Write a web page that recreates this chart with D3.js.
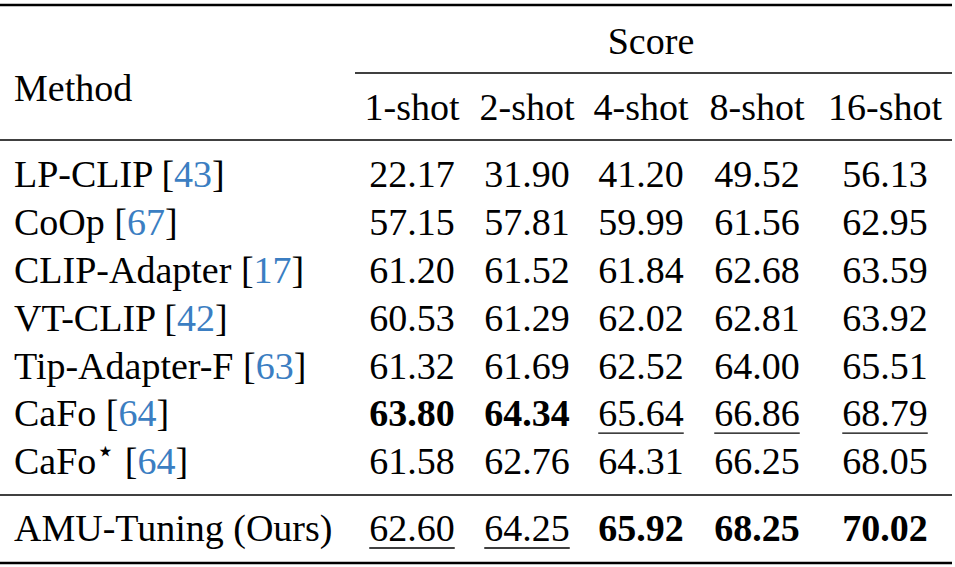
<!DOCTYPE html>
<html><head><meta charset="utf-8">
<script src="https://cdn.jsdelivr.net/npm/d3@7"></script>
<style>body{margin:0;background:#fff}text{font-family:"Liberation Serif","Times New Roman",serif;font-size:38px;fill:#000}</style>
</head><body>
<script>
var w = 955, h = 567;

var columns = ["1-shot", "2-shot", "4-shot", "8-shot", "16-shot"];
var methods = ["LP-CLIP", "CoOp", "CLIP-Adapter", "VT-CLIP", "Tip-Adapter-F", "CaFo", "CaFo"];
var cites = ["43", "67", "17", "42", "63", "64", "64"];
var values = [
  ["22.17", "31.90", "41.20", "49.52", "56.13"],
  ["57.15", "57.81", "59.99", "61.56", "62.95"],
  ["61.20", "61.52", "61.84", "62.68", "63.59"],
  ["60.53", "61.29", "62.02", "62.81", "63.92"],
  ["61.32", "61.69", "62.52", "64.00", "65.51"],
  ["63.80", "64.34", "65.64", "66.86", "68.79"],
  ["61.58", "62.76", "64.31", "66.25", "68.05"]
];
var oursName = "AMU-Tuning (Ours)";
var oursValues = ["62.60", "64.25", "65.92", "68.25", "70.02"];
// style: b = bold, u = underline
var styles = [
  ["", "", "", "", ""], ["", "", "", "", ""], ["", "", "", "", ""], ["", "", "", "", ""], ["", "", "", "", ""],
  ["b", "b", "u", "u", "u"],
  ["", "", "", "", ""]
];
var oursStyles = ["u", "u", "b", "b", "b"];

var svg = d3.select("body").append("svg").attr("width", w).attr("height", h);

var x = d3.scaleOrdinal().domain(columns).range([412, 527, 641, 757, 885]);
var y = d3.scaleLinear().domain([0, 6]).range([174, 461]);
var blue = "#3b7ec2";

function rule(y0, x0, x1, sw) {
  svg.append("line").attr("x1", x0).attr("x2", x1).attr("y1", y0).attr("y2", y0)
    .attr("stroke", "#000").attr("stroke-width", sw);
}
rule(5, 0, 952, 2.5);
rule(73, 355, 952, 1.3);
rule(140, 0, 952, 1.3);
rule(495, 0, 952, 1.3);
rule(563, 0, 952, 2.5);

svg.append("text").attr("x", 14).attr("y", 88).attr("dy", "0.35em").text("Method");
svg.append("text").attr("x", 651).attr("y", 41).attr("dy", "0.35em").attr("text-anchor", "middle").text("Score");
svg.selectAll(".hdr").data(columns).enter().append("text")
  .attr("x", function(d){ return x(d); }).attr("y", 107).attr("dy", "0.35em")
  .attr("text-anchor", "middle").text(function(d){ return d; });

var rows = svg.selectAll(".row").data(methods).enter().append("g")
  .attr("transform", function(d, i){ return "translate(0," + y(i) + ")"; });

rows.append("text").attr("x", 14).attr("dy", "0.35em").each(function(d, i){
  var t = d3.select(this);
  t.append("tspan").text(d);
  if (i === 6) t.append("tspan").attr("font-size", "30px").attr("dy", "-13").text("\u22C6");
  t.append("tspan").attr("dy", i === 6 ? "13" : null).text(" [");
  t.append("tspan").style("fill", blue).text(cites[i]);
  t.append("tspan").text("]");
});

function cells(g, vals, st) {
  vals.forEach(function(v, j){
    var t = g.append("text").attr("x", x(columns[j])).attr("dy", "0.35em")
      .attr("text-anchor", "middle").attr("font-weight", st[j] === "b" ? "bold" : null).text(v);
    if (st[j] === "u") {
      var bw = t.node().getComputedTextLength();
      g.append("line").attr("x1", x(columns[j]) - bw / 2).attr("x2", x(columns[j]) + bw / 2)
        .attr("y1", 20).attr("y2", 20).attr("stroke", "#000").attr("stroke-width", 1.3);
    }
  });
}
rows.each(function(d, i){ cells(d3.select(this), values[i], styles[i]); });

var og = svg.append("g").attr("transform", "translate(0,528)");
og.append("text").attr("x", 14).attr("dy", "0.35em").text(oursName);
cells(og, oursValues, oursStyles);
</script>
</body></html>
